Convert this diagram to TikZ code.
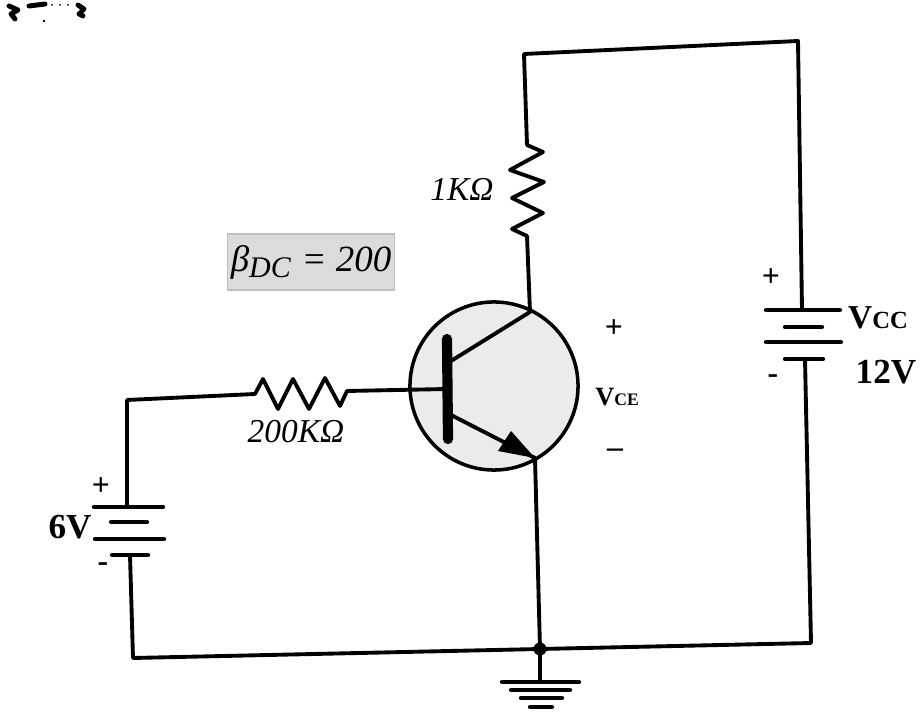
\documentclass[tikz,border=0pt]{standalone}
\usepackage{fontspec}
\setmainfont{Liberation Serif}
\tikzset{
	wire/.style={line width=1.1pt, line cap=round, line join=round},
	plate/.style={line width=1.2pt, line cap=round},
	lbl/.style={font=\bfseries\fontsize{10}{12}\selectfont, inner sep=0pt},
	val/.style={font=\itshape\fontsize{9.5}{11}\selectfont, inner sep=0pt},
	sign/.style={font=\bfseries\fontsize{9}{10}\selectfont, inner sep=0pt}
}
\begin{document}
\begin{tikzpicture}[x=0.01cm, y=-0.01cm]
	\useasboundingbox (0,0) rectangle (921,728);
	% Points
	\coordinate (tl) at (524,54);
	\coordinate (tr) at (798,41);
	\coordinate (vcctop) at (802,310);
	\coordinate (vccbot) at (805,359);
	\coordinate (br) at (811,643);
	\coordinate (gnd) at (540,649);
	\coordinate (bl) at (133,658);
	\coordinate (vbbbot) at (130,555);
	\coordinate (vbbtop) at (127,507);
	\coordinate (lt) at (127,400);
	\coordinate (rba) at (255,394);
	\coordinate (rbb) at (347,391);
	\coordinate (rca) at (527,145);
	\coordinate (rcb) at (527,236);
	\coordinate (base) at (447,389);
	\coordinate (coll) at (530,312);
	\coordinate (emit) at (535,458);
	\coordinate (collin) at (451,361);
	\coordinate (emitin) at (451,415);
	\coordinate (earth) at (540,682);
	% Transistor
	\node [circle, draw, line width=1pt, fill=black!8, minimum size=1.68cm, inner sep=0pt] (tr1) at (494,386) {};
	\draw [line width=2.9pt, line cap=round] (447,339) -- (448,439);
	\draw [wire] (collin) -- (coll);
	\draw [wire] (emitin) -- (emit);
	\fill (emit) -- (511,431) -- (498,451) -- cycle;
	% Wires
	\draw [wire] (vcctop) -- (tr) -- (tl) -- (rca);
	\draw [wire] (rcb) -- (coll);
	\draw [wire] (emit) -- (gnd) -- (earth);
	\draw [wire] (vccbot) -- (br) -- (gnd) -- (bl) -- (vbbbot);
	\draw [wire] (vbbtop) -- (lt) -- (rba);
	\draw [wire] (rbb) -- (base);
	\fill (gnd) circle (6.5);
	% Resistors
	\draw [wire] (rca) -- (543,152) -- (510,170) -- (544,182) -- (512,198) -- (543,213) -- (512,229) -- (rcb);
	\draw [wire] (rba) -- (263,379) -- (278,409) -- (293,379) -- (309,409) -- (325,378) -- (340,406) -- (rbb);
	% Batteries
	\foreach \y/\a/\b in {310/766/840, 327/785/822, 342/766/841, 359/785/823}
		\draw [plate] (\a,\y) -- (\b,\y);
	\foreach \y/\a/\b in {507/94/163, 522/111/147, 539/95/164, 555/112/148}
		\draw [plate] (\a,\y) -- (\b,\y);
	% Ground
	\foreach \y/\a/\b in {682/502/579, 690/511/570, 698/521/562, 707/530/552}
		\draw [plate] (\a,\y) -- (\b,\y);
	% Labels
	\node [val] (rclabel) at (462,189) {1KΩ};
	\node [val] (rblabel) at (296,432) {200KΩ};
	\node [fill=black!14, draw=black!25, minimum width=1.67cm, minimum height=0.56cm, inner sep=0pt, font=\itshape\fontsize{10.5}{12}\selectfont] (beta) at (311,262) {β\textsubscript{\fontsize{8.5}{10}\selectfont DC} = 200};
	\node [sign] (vceplus) at (614,329) {+};
	\node [lbl] (vce) at (617,397) {\fontsize{7.5}{10}\selectfont V\fontsize{5}{8}\selectfont CE};
	\node [sign] (vceminus) at (615,453) {–};
	\node [sign] (vccplus) at (771,278) {+};
	\node [sign] (vccminus) at (773,379) {-};
	\node [lbl] (vcc) at (878,318) {\fontsize{9.5}{12}\selectfont V\fontsize{7}{10}\selectfont CC};
	\node [lbl] (vccval) at (886,372) {12V};
	\node [lbl] (vbb) at (70,527) {6V};
	\node [sign] (vbbplus) at (101,487) {+};
	\node [sign] (vbbminus) at (103,567) {-};
	% Scan marks
	\draw [line width=1.4pt, line cap=round, line join=round] (9,6) -- (18,10) -- (11,14) -- (15,19);
	\draw [line width=1.4pt, line cap=round] (29,6) -- (45,4);
	\draw [line width=1.4pt, line cap=round, line join=round] (78,5) -- (84,9) -- (79,14) -- (83,16);
	\foreach \x in {52, 60, 68}
		\fill (\x,5) circle (1);
	\fill (44,21) circle (1.3);
\end{tikzpicture}
\end{document}
